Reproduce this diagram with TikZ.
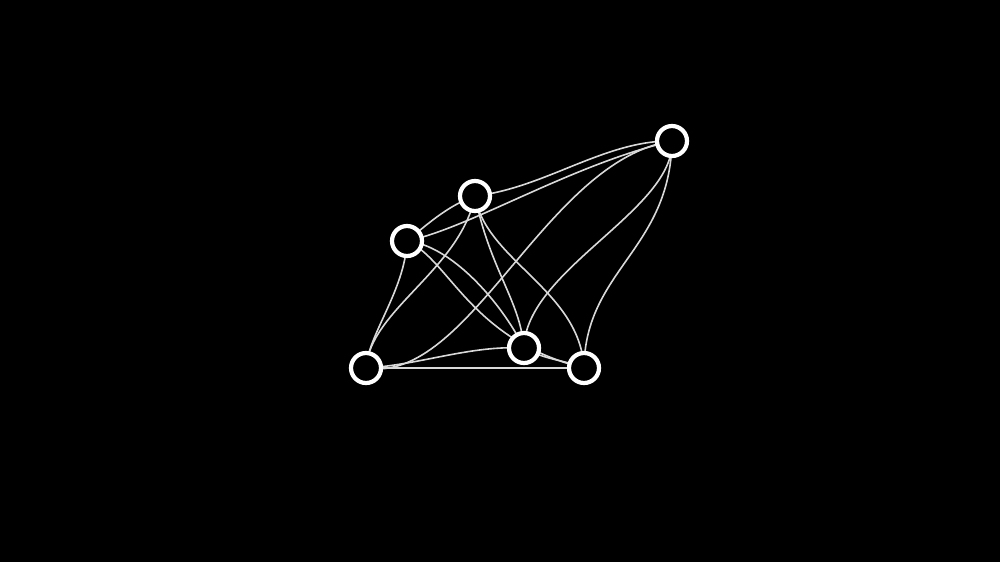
\documentclass[tikz,border=0pt]{standalone}
\begin{document}
\begin{tikzpicture}[x=1pt,y=-1pt,
  vertex/.style={circle,draw=white,line width=4.2pt,fill=black,minimum size=30pt,inner sep=0pt},
  link/.style={draw=white!85!black,line width=1.6pt}]
\fill[black] (0,0) rectangle (1000,562);
\useasboundingbox (0,0) rectangle (1000,562);
\coordinate (A) at (366,368);
\coordinate (B) at (407,241);
\coordinate (C) at (475,196);
\coordinate (D) at (672,141);
\coordinate (E) at (524,348);
\coordinate (F) at (584,368);
% edges of the complete graph
\draw[link] (A) .. controls (368,335) and (405,290) .. (B);
\draw[link] (A) .. controls (370,310) and (460,270) .. (C);
\draw[link] (A) .. controls (470,385) and (545,160) .. (D);
\draw[link] (A) .. controls (420,365) and (470,345) .. (E);
\draw[link] (A) -- (F);
\draw[link] (B) .. controls (432,220) and (450,205) .. (C);
\draw[link] (B) .. controls (470,228) and (570,165) .. (D);
\draw[link] (B) .. controls (450,245) and (500,300) .. (E);
\draw[link] (B) .. controls (450,260) and (470,340) .. (F);
\draw[link] (C) .. controls (545,188) and (605,140) .. (D);
\draw[link] (C) .. controls (490,270) and (520,300) .. (E);
\draw[link] (C) .. controls (485,260) and (580,290) .. (F);
\draw[link] (D) .. controls (675,210) and (525,270) .. (E);
\draw[link] (D) .. controls (670,250) and (585,270) .. (F);
\draw[link] (E) .. controls (545,360) and (565,360) .. (F);
% vertices
\node[vertex] (nA) at (A) {};
\node[vertex] (nB) at (B) {};
\node[vertex] (nC) at (C) {};
\node[vertex] (nD) at (D) {};
\node[vertex] (nE) at (E) {};
\node[vertex] (nF) at (F) {};
\end{tikzpicture}
\end{document}
